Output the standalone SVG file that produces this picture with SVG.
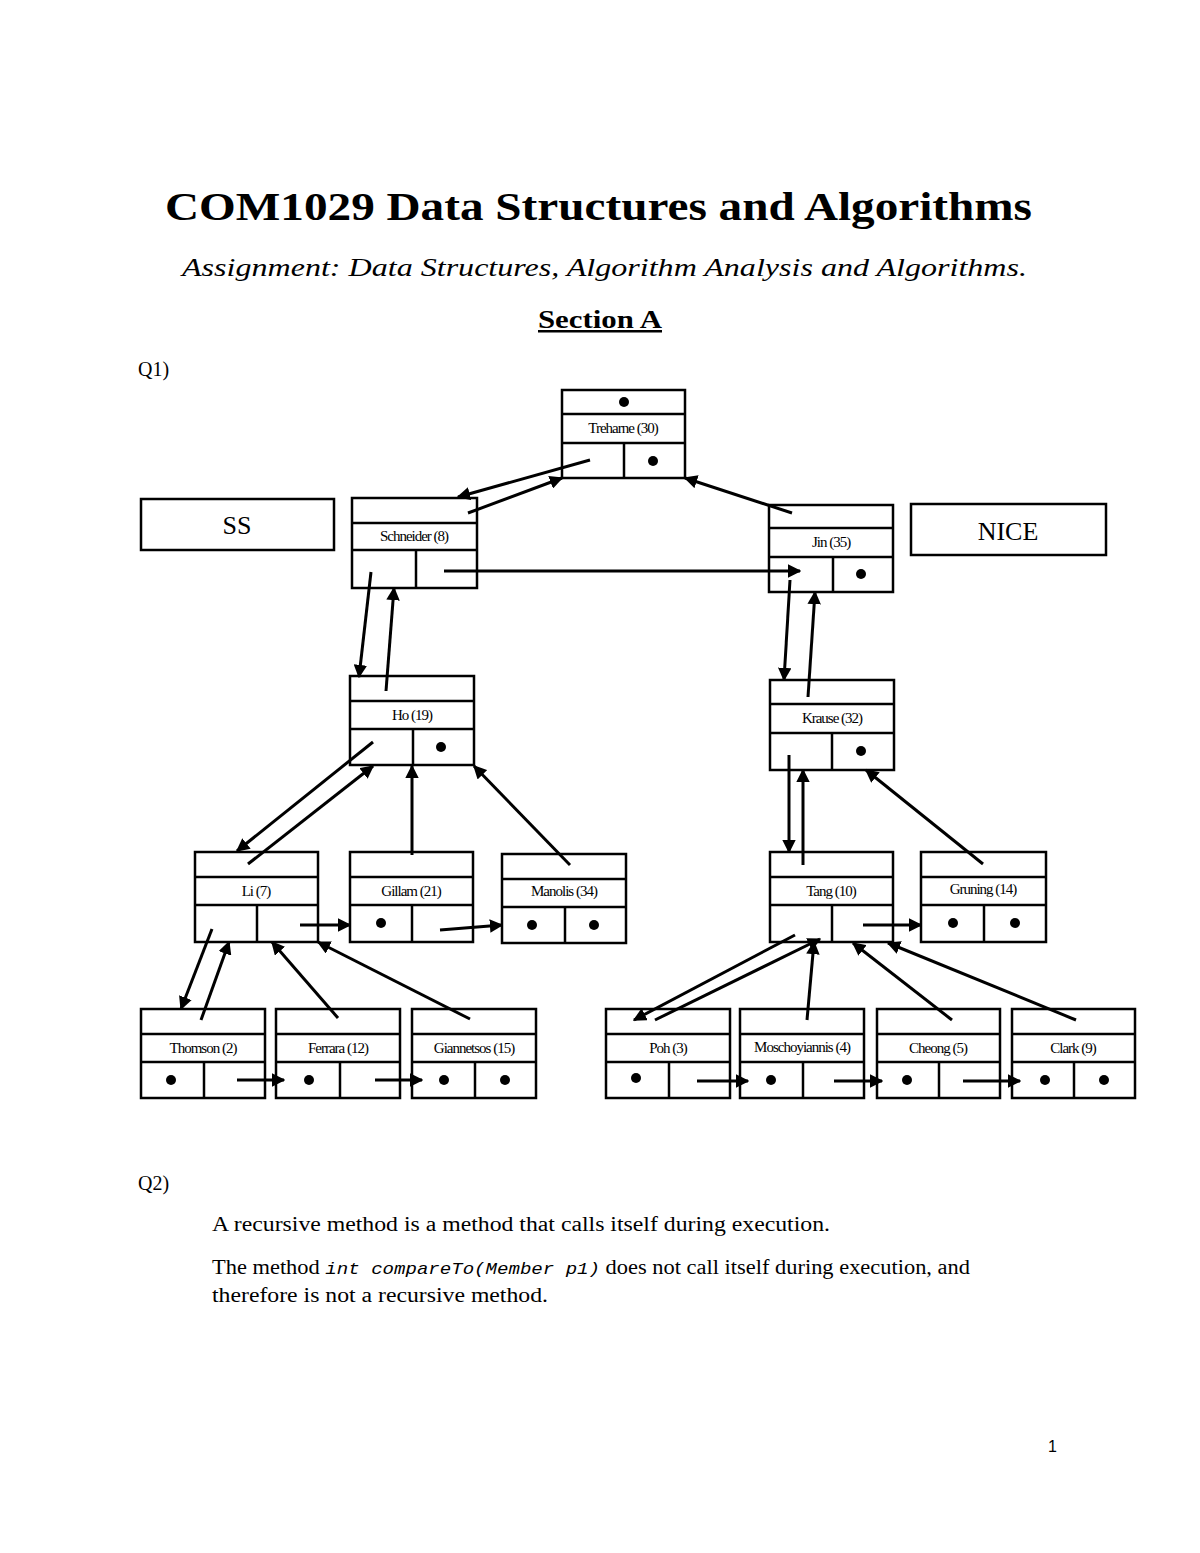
<svg xmlns="http://www.w3.org/2000/svg" width="1200" height="1553" viewBox="0 0 1200 1553">
<defs>
<marker id="ah" viewBox="0 0 10 10" refX="9" refY="5" markerWidth="4.5" markerHeight="4.5" orient="auto" markerUnits="strokeWidth"><path d="M0,0 L10,5 L0,10 z" fill="#000"/></marker>
<style>
.n rect,.n line{fill:none;stroke:#000;stroke-width:2.5}
.lb{font-family:"Liberation Serif",serif;font-size:15px;text-anchor:middle;letter-spacing:-1px}
.dot{fill:#000}
#edges line{stroke:#000;stroke-width:3;marker-end:url(#ah)}
.t{font-family:"Liberation Serif",serif;fill:#000}
</style>
</defs>
<rect width="1200" height="1553" fill="#fff"/>
<text class="t" x="165" y="220" font-size="40" font-weight="bold" textLength="867" lengthAdjust="spacingAndGlyphs">COM1029 Data Structures and Algorithms</text>
<text class="t" x="182" y="276" font-size="26" font-style="italic" textLength="845" lengthAdjust="spacingAndGlyphs">Assignment: Data Structures, Algorithm Analysis and Algorithms.</text>
<text class="t" x="538" y="328" font-size="25" font-weight="bold" text-decoration="underline" textLength="124" lengthAdjust="spacingAndGlyphs">Section A</text>
<text class="t" x="138" y="376" font-size="20">Q1)</text>

<g id="SS"><rect x="141" y="499" width="193" height="51" fill="none" stroke="#000" stroke-width="2.5"/><text class="t" x="237" y="534" font-size="26" text-anchor="middle">SS</text></g>
<g id="NICE"><rect x="911" y="504" width="195" height="51" fill="none" stroke="#000" stroke-width="2.5"/><text class="t" x="1008" y="540" font-size="26" text-anchor="middle">NICE</text></g>

<g id="treharne" class="n"><rect x="562" y="390" width="123" height="88"/><line x1="562" y1="414" x2="685" y2="414"/><line x1="562" y1="443" x2="685" y2="443"/><line x1="624" y1="443" x2="624" y2="478"/><text class="lb" x="623" y="433">Treharne (30)</text><circle class="dot" cx="624" cy="402" r="5"/><circle class="dot" cx="653" cy="461" r="5"/></g>
<g id="schneider" class="n"><rect x="352" y="498" width="125" height="90"/><line x1="352" y1="523" x2="477" y2="523"/><line x1="352" y1="550" x2="477" y2="550"/><line x1="416" y1="550" x2="416" y2="588"/><text class="lb" x="414" y="541">Schneider (8)</text></g>
<g id="jin" class="n"><rect x="769" y="505" width="124" height="87"/><line x1="769" y1="528" x2="893" y2="528"/><line x1="769" y1="557" x2="893" y2="557"/><line x1="833" y1="557" x2="833" y2="592"/><text class="lb" x="831" y="547">Jin (35)</text><circle class="dot" cx="861" cy="574" r="5"/></g>
<g id="ho" class="n"><rect x="350" y="676" width="124" height="89"/><line x1="350" y1="701" x2="474" y2="701"/><line x1="350" y1="729" x2="474" y2="729"/><line x1="413" y1="729" x2="413" y2="765"/><text class="lb" x="412" y="720">Ho (19)</text><circle class="dot" cx="441" cy="747" r="5"/></g>
<g id="krause" class="n"><rect x="770" y="680" width="124" height="90"/><line x1="770" y1="704" x2="894" y2="704"/><line x1="770" y1="733" x2="894" y2="733"/><line x1="832" y1="733" x2="832" y2="770"/><text class="lb" x="832" y="723">Krause (32)</text><circle class="dot" cx="861" cy="751" r="5"/></g>
<g id="li" class="n"><rect x="195" y="852" width="123" height="90"/><line x1="195" y1="877" x2="318" y2="877"/><line x1="195" y1="905" x2="318" y2="905"/><line x1="257" y1="905" x2="257" y2="942"/><text class="lb" x="256" y="896">Li (7)</text></g>
<g id="gillam" class="n"><rect x="350" y="852" width="123" height="90"/><line x1="350" y1="877" x2="473" y2="877"/><line x1="350" y1="905" x2="473" y2="905"/><line x1="412" y1="905" x2="412" y2="942"/><text class="lb" x="411" y="896">Gillam (21)</text><circle class="dot" cx="381" cy="923" r="5"/></g>
<g id="manolis" class="n"><rect x="502" y="854" width="124" height="89"/><line x1="502" y1="879" x2="626" y2="879"/><line x1="502" y1="907" x2="626" y2="907"/><line x1="565" y1="907" x2="565" y2="943"/><text class="lb" x="564" y="896">Manolis (34)</text><circle class="dot" cx="532" cy="925" r="5"/><circle class="dot" cx="594" cy="925" r="5"/></g>
<g id="tang" class="n"><rect x="770" y="852" width="123" height="90"/><line x1="770" y1="877" x2="893" y2="877"/><line x1="770" y1="905" x2="893" y2="905"/><line x1="832" y1="905" x2="832" y2="942"/><text class="lb" x="831" y="896">Tang (10)</text></g>
<g id="gruning" class="n"><rect x="921" y="852" width="125" height="90"/><line x1="921" y1="877" x2="1046" y2="877"/><line x1="921" y1="905" x2="1046" y2="905"/><line x1="984" y1="905" x2="984" y2="942"/><text class="lb" x="983" y="894">Gruning (14)</text><circle class="dot" cx="953" cy="923" r="5"/><circle class="dot" cx="1015" cy="923" r="5"/></g>

<g id="thomson" class="n"><rect x="141" y="1009" width="124" height="89"/><line x1="141" y1="1034" x2="265" y2="1034"/><line x1="141" y1="1062" x2="265" y2="1062"/><line x1="204" y1="1062" x2="204" y2="1098"/><text class="lb" x="203" y="1053">Thomson (2)</text><circle class="dot" cx="171" cy="1080" r="5"/></g>
<g id="ferrara" class="n"><rect x="276" y="1009" width="124" height="89"/><line x1="276" y1="1034" x2="400" y2="1034"/><line x1="276" y1="1062" x2="400" y2="1062"/><line x1="340" y1="1062" x2="340" y2="1098"/><text class="lb" x="338" y="1053">Ferrara (12)</text><circle class="dot" cx="309" cy="1080" r="5"/></g>
<g id="giannetsos" class="n"><rect x="412" y="1009" width="124" height="89"/><line x1="412" y1="1034" x2="536" y2="1034"/><line x1="412" y1="1062" x2="536" y2="1062"/><line x1="475" y1="1062" x2="475" y2="1098"/><text class="lb" x="474" y="1053">Giannetsos (15)</text><circle class="dot" cx="444" cy="1080" r="5"/><circle class="dot" cx="505" cy="1080" r="5"/></g>
<g id="poh" class="n"><rect x="606" y="1009" width="124" height="89"/><line x1="606" y1="1034" x2="730" y2="1034"/><line x1="606" y1="1062" x2="730" y2="1062"/><line x1="669" y1="1062" x2="669" y2="1098"/><text class="lb" x="668" y="1053">Poh (3)</text><circle class="dot" cx="636" cy="1078" r="5"/></g>
<g id="moschoyiannis" class="n"><rect x="740" y="1009" width="124" height="89"/><line x1="740" y1="1034" x2="864" y2="1034"/><line x1="740" y1="1062" x2="864" y2="1062"/><line x1="803" y1="1062" x2="803" y2="1098"/><text class="lb" x="802" y="1052">Moschoyiannis (4)</text><circle class="dot" cx="771" cy="1080" r="5"/></g>
<g id="cheong" class="n"><rect x="877" y="1009" width="123" height="89"/><line x1="877" y1="1034" x2="1000" y2="1034"/><line x1="877" y1="1062" x2="1000" y2="1062"/><line x1="939" y1="1062" x2="939" y2="1098"/><text class="lb" x="938" y="1053">Cheong (5)</text><circle class="dot" cx="907" cy="1080" r="5"/></g>
<g id="clark" class="n"><rect x="1012" y="1009" width="123" height="89"/><line x1="1012" y1="1034" x2="1135" y2="1034"/><line x1="1012" y1="1062" x2="1135" y2="1062"/><line x1="1074" y1="1062" x2="1074" y2="1098"/><text class="lb" x="1073" y="1053">Clark (9)</text><circle class="dot" cx="1045" cy="1080" r="5"/><circle class="dot" cx="1104" cy="1080" r="5"/></g>

<g id="edges">
<line x1="590" y1="460" x2="458" y2="497"/>
<line x1="468" y1="513" x2="562" y2="478"/>
<line x1="792" y1="513" x2="685" y2="478"/>
<line x1="444" y1="571" x2="800" y2="571"/>
<line x1="371" y1="572" x2="359" y2="677"/>
<line x1="386" y1="691" x2="394" y2="588"/>
<line x1="790" y1="580" x2="784" y2="680"/>
<line x1="808" y1="697" x2="815" y2="592"/>
<line x1="373" y1="742" x2="237" y2="851"/>
<line x1="248" y1="864" x2="373" y2="766"/>
<line x1="412" y1="855" x2="412" y2="766"/>
<line x1="570" y1="865" x2="474" y2="766"/>
<line x1="789" y1="755" x2="789" y2="852"/>
<line x1="803" y1="865" x2="803" y2="770"/>
<line x1="983" y1="864" x2="866" y2="770"/>
<line x1="300" y1="925" x2="350" y2="925"/>
<line x1="440" y1="930" x2="502" y2="925"/>
<line x1="863" y1="925" x2="921" y2="925"/>
<line x1="212" y1="929" x2="181" y2="1009"/>
<line x1="201" y1="1020" x2="229" y2="942"/>
<line x1="338" y1="1018" x2="272" y2="942"/>
<line x1="470" y1="1019" x2="318" y2="942"/>
<line x1="795" y1="935" x2="634" y2="1020"/>
<line x1="655" y1="1020" x2="820" y2="939"/>
<line x1="807" y1="1020" x2="814" y2="942"/>
<line x1="952" y1="1020" x2="853" y2="943"/>
<line x1="1076" y1="1020" x2="888" y2="943"/>
<line x1="237" y1="1080" x2="284" y2="1080"/>
<line x1="375" y1="1080" x2="422" y2="1080"/>
<line x1="697" y1="1081" x2="748" y2="1081"/>
<line x1="834" y1="1081" x2="882" y2="1081"/>
<line x1="963" y1="1081" x2="1020" y2="1081"/>
</g>

<text class="t" x="138" y="1190" font-size="20">Q2)</text>
<text class="t" x="212" y="1231" font-size="20" textLength="618" lengthAdjust="spacingAndGlyphs">A recursive method is a method that calls itself during execution.</text>
<text class="t" x="212" y="1274" font-size="20" textLength="758" lengthAdjust="spacingAndGlyphs">The method <tspan font-family="Liberation Mono,monospace" font-style="italic" font-size="17">int compareTo(Member p1)</tspan> does not call itself during execution, and</text>
<text class="t" x="212" y="1302" font-size="20" textLength="336" lengthAdjust="spacingAndGlyphs">therefore is not a recursive method.</text>
<text x="1048" y="1452" font-family="Liberation Sans,sans-serif" font-size="16">1</text>
</svg>
